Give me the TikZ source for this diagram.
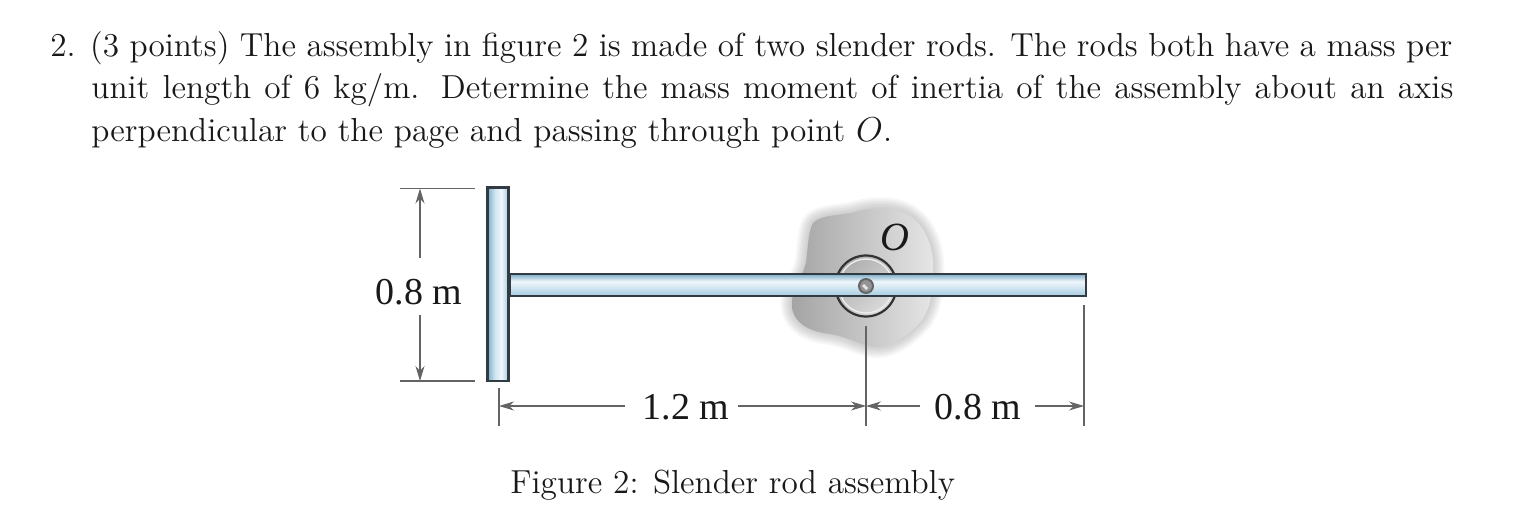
\documentclass[tikz,border=0pt]{standalone}
\usepackage{fontspec}
\setmainfont{lmroman12-regular.otf}
\newfontfamily\figfont{Liberation Serif}
\usetikzlibrary{arrows.meta,calc}
\definecolor{rodT}{RGB}{125,172,200}
\definecolor{rodB}{RGB}{165,203,224}
\definecolor{rodC}{RGB}{205,228,240}
\definecolor{rodL}{RGB}{240,247,251}
\definecolor{rodedge}{RGB}{50,58,66}
\definecolor{dimgray}{RGB}{100,100,100}
\pgfdeclareverticalshading{rodh}{100bp}{color(0bp)=(rodB);color(25bp)=(rodB);color(42bp)=(rodC);color(58bp)=(rodL);color(75bp)=(rodT);color(100bp)=(rodT)}
\pgfdeclarehorizontalshading{rodv}{100bp}{color(0bp)=(rodT);color(25bp)=(rodT);color(42bp)=(rodC);color(58bp)=(rodL);color(75bp)=(rodB);color(100bp)=(rodB)}
\tikzset{
 para/.style={anchor=base west,inner sep=0pt,font=\fontsize{16.65}{20}\selectfont,text=black!90},
 figlabel/.style={inner sep=0pt,font=\figfont\fontsize{19}{22}\selectfont,text=black!90},
 dimline/.style={draw=dimgray,line width=0.55pt},
 dimarrow/.style={dimline,-{Stealth[length=7.5pt,width=4.5pt]}},
 rodedgeH/.style={draw=rodedge,line width=1.4pt,shading=rodh},
 rodedgeV/.style={draw=rodedge,line width=1.4pt,shading=rodv},
}
\begin{document}
\begin{tikzpicture}[x=0.5pt,y=-0.5pt]
\useasboundingbox (0,0) rectangle (1528,524);
\fill[white] (0,0) rectangle (1528,524);
% text
\node[para] (l1) at (50,57) {\makebox[701pt][s]{2. (3 points) The assembly in figure 2 is made of two slender rods. The rods both have a mass per}};
\node[para] (l2) at (91,99) {\makebox[681pt][s]{unit length of 6 kg/m. Determine the mass moment of inertia of the assembly about an axis}};
\node[para] (l3) at (91,142) {perpendicular to the page and passing through point $O$.};
\node[para] (cap) at (510,493) {Figure 2: Slender rod assembly};
% blob
\def\blob{(813,223) .. controls (822,214) and (840,216) .. (855,212) .. controls (872,207) and (895,206) .. (910,216) .. controls (925,226) and (932,245) .. (933,262) .. controls (934,285) and (932,305) .. (922,320) .. controls (912,332) and (895,346) .. (878,347) .. controls (862,347) and (850,337) .. (830,334) .. controls (812,332) and (795,325) .. (792,308) .. controls (790,290) and (803,278) .. (806,262) .. controls (808,248) and (808,232) .. (813,223) -- cycle}
\foreach \w in {11,9,7.5,6,4.5,3,1.5}{\draw[draw=gray!70,opacity=0.09,line width=\w pt,line join=round] \blob;}
\shade[shading angle=50,left color=black!36,right color=black!10] \blob;
% ring
\coordinate (pivot) at (866,286);
\shade[left color=black!32,right color=black!14,shading angle=45] (pivot) circle (30.5);
\draw[draw=white!85!gray,line width=0.7pt] (pivot) circle (27);
\draw[draw=black!80,line width=1.1pt] (pivot) circle (30.5);
% rods
\path[rodedgeV] (487.5,187.5) rectangle (508.5,381);
\path[rodedgeH] (510,274) rectangle (1086,296);
% pin
\draw[draw=black!60,line width=1pt,fill=black!42] (pivot) circle (7);
\fill[white!80!gray] (864,284) -- (868,288) -- (866,290) -- (862,286) -- cycle;
\node[figlabel,font=\figfont\itshape\fontsize{20}{22}\selectfont] (O) at (895,237) {O};
% vertical dimension
\coordinate (t1) at (400,188.5); \coordinate (t2) at (475,188.5);
\coordinate (b1) at (400,381); \coordinate (b2) at (475,381);
\draw[dimline] (t1) -- (t2);
\draw[dimline] (b1) -- (b2);
\node[figlabel] (dv) at (419,292) {0.8 m};
\coordinate (vt) at (420,188.5); \coordinate (vts) at (420,258);
\coordinate (vb) at (420,381); \coordinate (vbs) at (420,315);
\draw[dimarrow] (vts) -- (vt);
\draw[dimarrow] (vbs) -- (vb);
% extension lines
\coordinate (e1a) at (499,388); \coordinate (e1b) at (499,426);
\coordinate (e2a) at (866,326); \coordinate (e2b) at (866,426);
\coordinate (e3a) at (1084,305); \coordinate (e3b) at (1084,426);
\draw[dimline] (e1a) -- (e1b);
\draw[dimline] (e2a) -- (e2b);
\draw[dimline] (e3a) -- (e3b);
% horizontal dimensions
\node[figlabel] (d1) at (686,407) {1.2 m};
\node[figlabel] (d2) at (978,407) {0.8 m};
\coordinate (h1) at (499,406); \coordinate (h2) at (866,406); \coordinate (h3) at (1084,406);
\coordinate (s1) at (625,406); \coordinate (s2) at (738,406);
\coordinate (s3) at (920,406); \coordinate (s4) at (1035,406);
\draw[dimarrow] (s1) -- (h1);
\draw[dimarrow] (s2) -- (h2);
\draw[dimarrow] (s3) -- (h2);
\draw[dimarrow] (s4) -- (h3);
\end{tikzpicture}
\end{document}
